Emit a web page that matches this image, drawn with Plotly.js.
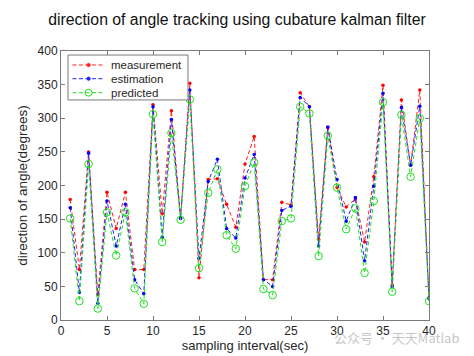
<!DOCTYPE html>
<html>
<head>
<meta charset="utf-8">
<script src="https://cdn.plot.ly/plotly-3.0.1.min.js"></script>
<style>html,body{margin:0;padding:0;background:#fff;}#chart{width:474px;height:356px;}</style>
</head>
<body>
<div id="chart"></div>
<script>
const timeSteps = [1,2,3,4,5,6,7,8,9,10,11,12,13,14,15,16,17,18,19,20,21,22,23,24,25,26,27,28,29,30,31,32,33,34,35,36,37,38,39,40];
const measurement = [179,75,250,38,190,136,190,75,75,320,158,311,152,352,63,209,210,172,138,232,273,60,60,175,171,338,317,120,286,197,168,180,116,213,349,52,327,230,342,33];
const estimation  = [167,41,248,25,177,110,172,60,39,317,123,298,151,342,92,206,239,136,122,211,246,60,50,163,169,331,317,110,287,209,147,182,88,199,337,50,316,230,318,32];
const predicted   = [151,28,232,17,160,96,160,47,24,306,116,278,149,328,77,189,224,126,106,199,234,46,37,147,151,317,307,95,274,197,135,166,70,177,324,42,305,213,300,28];
const seriesNames = ['measurement','estimation','predicted'];
const xTicks = [0,5,10,15,20,25,30,35,40];
const yTicks = [0,50,100,150,200,250,300,350,400];

const font = 'Liberation Sans, Arial, sans-serif';
const dashStyle = '4px,2.5px';
const colors = ['#ff2020', '#2020ff', '#20e020'];
const traces = [
  {x: timeSteps, y: measurement, name: seriesNames[0], type: 'scatter', mode: 'lines+markers', showlegend: false,
   line: {color: colors[0], width: 1, dash: dashStyle}, marker: {color: '#ff0000', size: 3.5, symbol: 'circle'}},
  {x: timeSteps, y: estimation, name: seriesNames[1], type: 'scatter', mode: 'lines+markers', showlegend: false,
   line: {color: colors[1], width: 1, dash: dashStyle}, marker: {color: '#0000ff', size: 3.5, symbol: 'circle'}},
  {x: timeSteps, y: predicted, name: seriesNames[2], type: 'scatter', mode: 'lines+markers', showlegend: false,
   line: {color: colors[2], width: 1, dash: dashStyle}, marker: {color: colors[2], size: 7.5, symbol: 'circle-open', line: {width: 1}}}
];

// Compact MATLAB-style legend (drawn in paper coordinates)
const legX0 = 0.019, legX1 = 0.345, legY0 = 0.818, legY1 = 0.985;
const rowY = [0.948, 0.897, 0.845];
const sampleX0 = 0.031, sampleX1 = 0.119, sampleMid = 0.075, textX = 0.131;
const shapes = [
  {type: 'rect', xref: 'paper', yref: 'paper', x0: legX0, x1: legX1, y0: legY0, y1: legY1,
   fillcolor: '#ffffff', line: {color: '#7a7a7a', width: 1}, layer: 'above'}
];
const annotations = [];
seriesNames.forEach((nm, i) => {
  shapes.push({type: 'line', xref: 'paper', yref: 'paper', x0: sampleX0, x1: sampleX1, y0: rowY[i], y1: rowY[i],
    line: {color: colors[i], width: 1, dash: dashStyle}, layer: 'above'});
  const r = i === 2 ? 3.5 : 1.6;
  shapes.push({type: 'circle', xref: 'paper', yref: 'paper', xsizemode: 'pixel', ysizemode: 'pixel',
    xanchor: sampleMid, yanchor: rowY[i], x0: -r, x1: r, y0: -r, y1: r,
    fillcolor: i === 2 ? 'rgba(255,255,255,0)' : colors[i], line: {color: colors[i], width: 1}, layer: 'above'});
  annotations.push({text: nm, xref: 'paper', yref: 'paper', x: textX, y: rowY[i], xanchor: 'left', yanchor: 'middle',
    showarrow: false, font: {family: font, size: 11.5, color: '#262626'}});
});
annotations.push({text: '公众号 · 天天Matlab', xref: 'paper', yref: 'paper', x: 0.913, y: -0.065, xanchor: 'center', yanchor: 'middle', showarrow: false,
  font: {family: 'Noto Sans CJK SC, sans-serif', size: 13, color: 'rgba(140,140,140,0.5)'}});

const axisCommon = {
  showline: true, linecolor: '#7a7a7a', linewidth: 1, mirror: 'ticks',
  ticks: 'inside', ticklen: 4, tickcolor: '#7a7a7a',
  showgrid: false, zeroline: false,
  tickfont: {family: font, size: 12, color: '#262626'}
};
const layout = {
  width: 474, height: 356,
  margin: {l: 61, r: 45, t: 51, b: 36},
  paper_bgcolor: '#fff', plot_bgcolor: '#fff',
  font: {family: font, color: '#262626'},
  title: {text: 'direction of angle tracking using cubature kalman filter', font: {family: font, size: 15.8, color: '#111'}, x: 0.5, xanchor: 'center', y: 0.944, yanchor: 'middle'},
  xaxis: Object.assign({}, axisCommon, {range: [0, 40], tickvals: xTicks, ticktext: xTicks.map(String),
    title: {text: 'sampling interval(sec)', font: {family: font, size: 13, color: '#262626'}, standoff: 2}}),
  yaxis: Object.assign({}, axisCommon, {range: [0, 400], tickvals: yTicks, ticktext: yTicks.map(String),
    title: {text: 'direction of angle(degrees)', font: {family: font, size: 13.5, color: '#262626'}, standoff: 6}}),
  showlegend: false,
  shapes: shapes,
  annotations: annotations
};
Plotly.newPlot('chart', traces, layout, {displayModeBar: false, staticPlot: true});
</script>
</body>
</html>
